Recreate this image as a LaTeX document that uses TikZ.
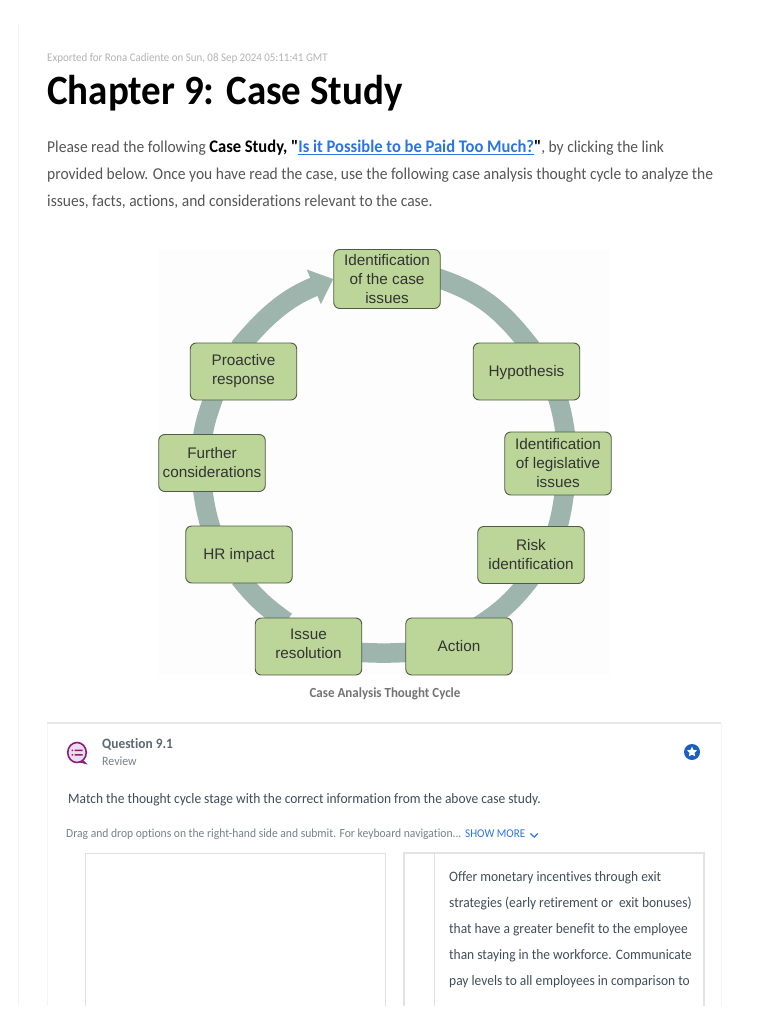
\documentclass[tikz,border=0pt]{standalone}
\usepackage{fontspec}
\usetikzlibrary{arrows.meta,backgrounds,shapes.geometric}
\newfontfamily\pagefont[FakeStretch=0.935,Ligatures=NoCommon]{Carlito}
\newfontfamily\stagefont{Liberation Sans}
\newcommand{\pagetext}[1]{\pagefont\fontsize{#1}{#1}\selectfont}
\definecolor{stagefill}{HTML}{BBD698}
\definecolor{stageline}{HTML}{4F5B47}
\definecolor{ringgray}{HTML}{9DB5AC}
\definecolor{bodygray}{HTML}{555555}
\definecolor{linkblue}{HTML}{2B74E2}
\definecolor{cardtext}{HTML}{3F4D5A}
\definecolor{cardgray}{HTML}{77808A}
\definecolor{starblue}{HTML}{1B5FC1}
\definecolor{bubble}{HTML}{8A1C80}
\begin{document}
\begin{tikzpicture}[
      x=1pt,y=-1pt,
      stagebox/.style={draw=stageline,fill=stagefill,line width=0.9pt,rounded corners=6pt,
        minimum width=106.5pt,minimum height=57pt,inner sep=0pt,align=center,text=black!80,
        font=\stagefont\fontsize{15.3}{19}\selectfont},
      ringpart/.style={draw=ringgray,line width=19.5pt,shorten <=-7pt,shorten >=-7pt},
      bodyline/.style={anchor=base west,inner sep=0pt,text=bodygray,font=\pagetext{16.6}},
      cardline/.style={anchor=base west,inner sep=0pt,text=cardtext,font=\pagetext{14.4}},
      emptybox/.style={draw=black!12,line width=0.8pt},
      optionbox/.style={draw=black!11,line width=1.8pt}
    ]
      \useasboundingbox (0,0) rectangle (768,1024);
      \draw[black!5,line width=0.8pt] (18.5,1006) -- (18.5,25);
      \draw[black!4,line width=0.8pt] (47,1006) -- (47,723) (721,723) -- (721,1006);
      \draw[black!9,line width=2.5pt] (47,723) -- (721,723);

      \node[bodyline,text=black!30,font=\pagetext{11.7}] (export) at (47,62) {Exported for Rona Cadiente on Sun, 08 Sep 2024 05:11:41 GMT};
      \node[anchor=base west,inner sep=0pt,font=\pagetext{41.7}\bfseries] (title) at (47,105) {Chapter 9: Case Study};
      \node[bodyline] (introa) at (47,153) {Please read the following {\fontsize{17.7}{17.7}\selectfont\bfseries\textcolor{black}{Case Study, "}\textcolor{linkblue}{\underline{Is it Possible to be Paid Too Much?}}\textcolor{black}{"}}, by clicking the link};
      \node[bodyline] (introb) at (47,180) {provided below. Once you have read the case, use the following case analysis thought cycle to analyze the};
      \node[bodyline] (introc) at (47,207) {issues, facts, actions, and considerations relevant to the case.};

      \node[stagebox,minimum height=59pt] (ident) at (387,279) {Identification\\of the case\\issues};
      \node[stagebox,text height=14pt] (hypo) at (526.5,371.5) {Hypothesis};
      \node[stagebox,minimum height=63pt] (legal) at (558,463.5) {Identification\\of legislative\\issues};
      \node[stagebox] (risk) at (531,555) {Risk\\identification};
      \node[stagebox] (action) at (459,646.5) {Action};
      \node[stagebox,text depth=5.5pt] (issue) at (308.5,646.5) {Issue\\resolution};
      \node[stagebox,text height=14pt] (hrimpact) at (239,554.5) {HR impact};
      \node[stagebox] (further) at (212,463) {Further\\considerations};
      \node[stagebox] (proact) at (243.5,371.5) {Proactive\\response};

      \begin{scope}[on background layer]
        \fill[black!0.8] (158,250) rectangle (610,675);
        \draw[ringpart] (ident.east) to[out=-18,in=128] ([xshift=0.5pt]hypo.north);
        \draw[ringpart] ([xshift=32pt]hypo.south) to[out=-73,in=98] ([xshift=7pt]legal.north);
        \draw[ringpart] ([xshift=6pt]legal.south) to[out=-100,in=72] ([xshift=27pt]risk.north);
        \draw[ringpart] ([xshift=-5pt]risk.south) to[out=-128,in=33] ([xshift=22pt,yshift=-7pt]action.north);
        \draw[ringpart] ([yshift=-6pt]action.west) to[out=183,in=-3] ([yshift=-6pt]issue.east);
        \draw[ringpart] ([xshift=-28pt]issue.north) to[out=144,in=-51] ([xshift=5pt]hrimpact.south);
        \draw[ringpart] ([xshift=-29pt]hrimpact.north) to[out=107,in=-82] ([xshift=-9pt]further.south);
        \draw[ringpart] ([xshift=-9pt]further.north) to[out=82,in=-109] ([xshift=-31pt]proact.south);
        \draw[ringpart,shorten >=0pt,-{Triangle[length=21pt,width=36pt]}] (proact.north) to[out=51,in=202] (ident.west);
      \end{scope}

      \node[anchor=base,inner sep=0pt,text=black!55,font=\pagetext{13.9}\bfseries] (caption) at (385,697) {Case Analysis Thought Cycle};

      \node[draw=bubble,fill=bubble!15,line width=1.6pt,ellipse,minimum width=18.5pt,minimum height=20pt,inner sep=0pt] (qicon) at (77,752.5) {};
      \fill[bubble] (qicon.-50) -- (87.5,764.5) -- (80,762.5) -- cycle;
      \fill[bubble] (71.5,749.5) rectangle +(1.6,1.6) (71.5,754) rectangle +(1.6,1.6) (74.5,749.5) rectangle +(8,1.6) (74.5,754) rectangle +(8,1.6);
      \node[cardline,font=\pagetext{14.3}\bfseries,text=cardtext!85] (qtitle) at (102,748) {Question 9.1};
      \node[cardline,font=\pagetext{12.7},text=cardgray] (qreview) at (102,765) {Review};
      \node[circle,fill=starblue,minimum size=16pt,inner sep=0pt] (qstar) at (692,752) {};
      \node[star,star points=5,star point ratio=2,fill=white,minimum size=10.5pt,inner sep=0pt] (qstarin) at (qstar) {};
      \node[cardline] (match) at (68,803) {Match the thought cycle stage with the correct information from the above case study.};
      \node[cardline,font=\pagetext{12.4},text=cardgray] (drag) at (66,837) {Drag and drop options on the right-hand side and submit. For keyboard navigation...};
      \node[cardline,font=\pagetext{11.9},text=linkblue] (showmore) at (465,837) {SHOW MORE};
      \draw[linkblue,line width=1.2pt] ([xshift=5pt,yshift=3.5pt]showmore.base east) -- +(3.7,3.5) -- +(7.4,0);

      \draw[emptybox] (85,1006) |- (385,853) -- (385,1006);
      \draw[optionbox] (404,1006) |- (704,853) -- (704,1006);
      \draw[emptybox] (434,853) -- (434,1006);
      \foreach \n/\ypos/\linetext in {opta/881/Offer monetary incentives through exit,
          optb/907/strategies (early retirement or\ \ exit bonuses),
          optc/933/that have a greater benefit to the employee,
          optd/959/than staying in the workforce. Communicate,
          opte/985/pay levels to all employees in comparison to}
        \node[cardline] (\n) at (449,\ypos) {\linetext};
    \end{tikzpicture}
\end{document}
